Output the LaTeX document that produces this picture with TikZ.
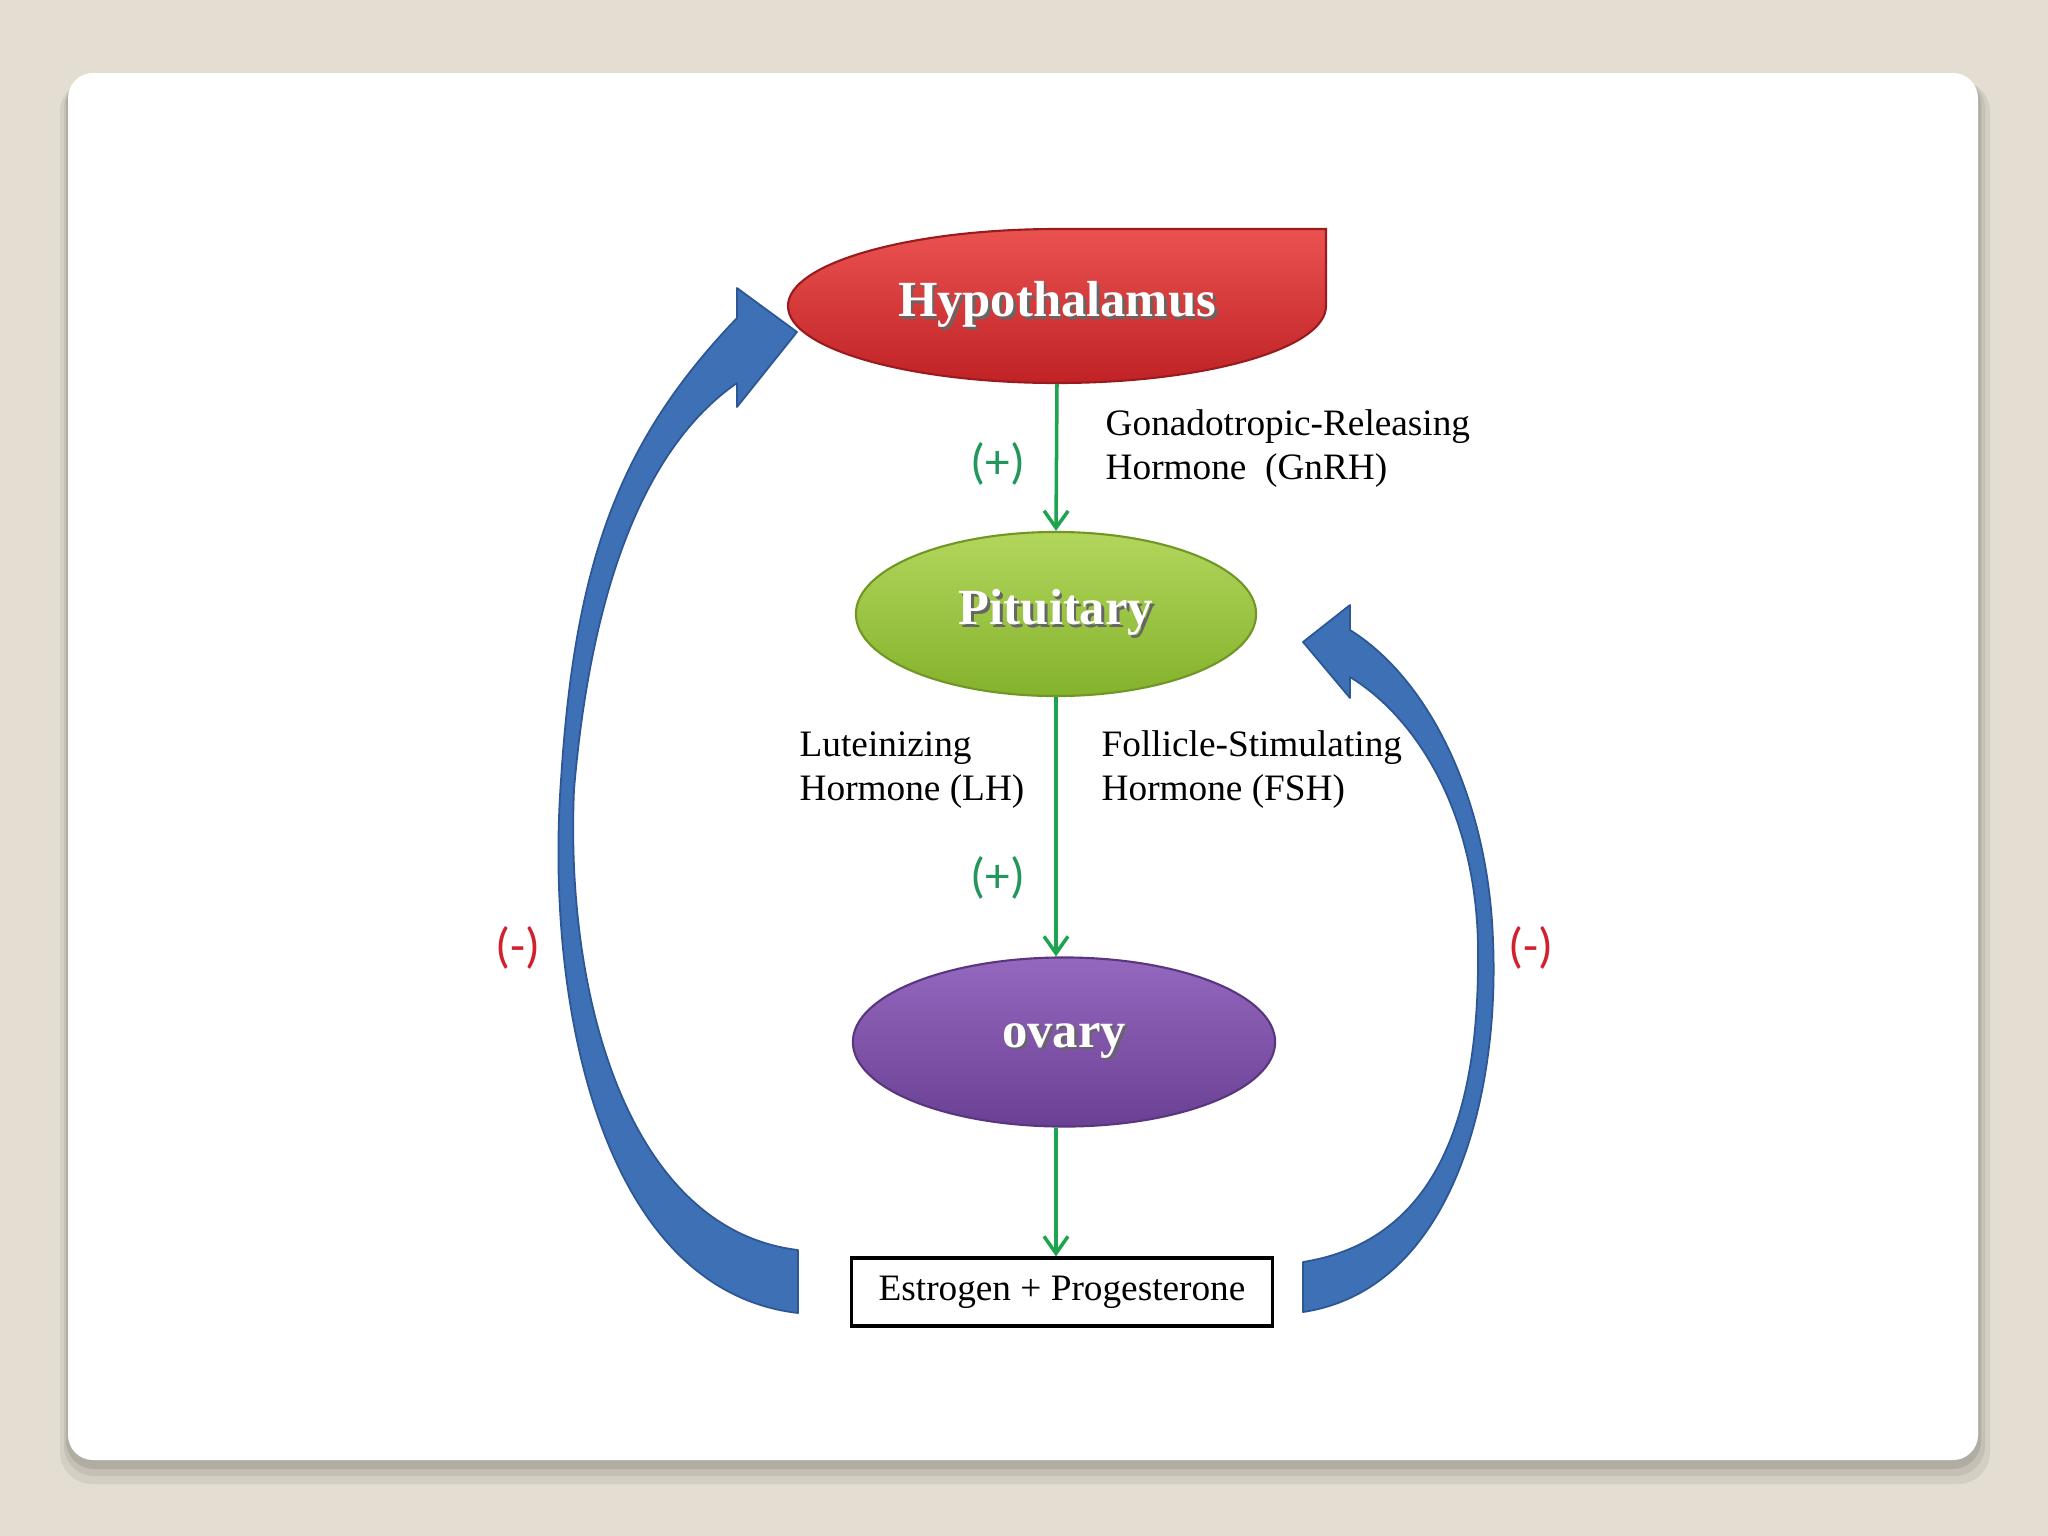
\documentclass[tikz,border=0pt]{standalone}
\usepackage{fontspec}
\setmainfont{Liberation Serif}
\newfontfamily\signfont{Carlito}
\usepackage{tikz}
\usetikzlibrary{arrows.meta,shapes.geometric,shadows}
\definecolor{pagebg}{RGB}{228,221,209}
\definecolor{cardshade}{RGB}{176,173,163}
\definecolor{hyporedlt}{RGB}{234,82,80}
\definecolor{hyporeddk}{RGB}{192,34,38}
\definecolor{pitgreenlt}{RGB}{178,214,92}
\definecolor{pitgreendk}{RGB}{132,178,44}
\definecolor{ovpurplelt}{RGB}{148,104,190}
\definecolor{ovpurpledk}{RGB}{106,64,148}
\definecolor{fbblue}{RGB}{62,112,182}
\definecolor{fbbluedk}{RGB}{44,86,148}
\definecolor{flowgreen}{RGB}{28,164,78}
\definecolor{posgreen}{RGB}{34,150,92}
\definecolor{negred}{RGB}{208,34,46}
\newcommand\shtext[1]{\makebox[0pt][l]{\kern0.8pt\raisebox{-0.8pt}{\color{black!60}#1}}#1}
\tikzset{
  organ/.style={ellipse,inner sep=0pt,text=white,font=\fontsize{14.4}{16}\selectfont\bfseries},
  flow/.style={-{Straight Barb[length=1.7mm,width=2.4mm]},line width=1pt,draw=flowgreen},
  fback/.style={fill=fbblue,draw=fbbluedk,line width=0.5pt,line join=round},
  lbl/.style={font=\fontsize{10.6}{12.5}\selectfont,align=left,inner sep=0pt,anchor=west},
  sign/.style={font=\signfont\fontsize{14}{14}\selectfont,inner sep=0pt},
  hormbox/.style={draw=black,line width=0.9pt,minimum width=4.21cm,minimum height=0.68cm,inner sep=0pt,font=\fontsize{10.6}{12.5}\selectfont}
}
\begin{document}
\begin{tikzpicture}[x=0.01cm,y=-0.01cm]
\useasboundingbox (0,0) rectangle (2048,1536);
\fill[pagebg] (0,0) rectangle (2048,1536);
% card with soft shadow
\fill[pagebg!70!cardshade,rounded corners=0.32cm] (60,80) rectangle (1990,1484);
\fill[pagebg!40!cardshade,rounded corners=0.3cm] (64,78) rectangle (1985,1476);
\fill[cardshade,rounded corners=0.28cm] (66,76) rectangle (1981,1469);
\fill[white,rounded corners=0.25cm] (68,73) rectangle (1978,1460);
% feedback arrows
\filldraw[fback] (798,1313) .. controls (600,1290) and (545,1000) .. (561,780)
  .. controls (575,560) and (620,440) .. (737,318)
  -- (737,288) -- (797,332) -- (737,407) -- (737,383)
  .. controls (640,450) and (590,600) .. (574,790)
  .. controls (565,1000) and (630,1230) .. (798,1250) -- cycle;
\filldraw[fback] (1303,1312) .. controls (1450,1290) and (1500,1100) .. (1493,940)
  .. controls (1488,800) and (1430,680) .. (1350,630)
  -- (1350,605) -- (1303,642) -- (1350,698) -- (1350,677)
  .. controls (1420,720) and (1480,820) .. (1478,960)
  .. controls (1478,1110) and (1440,1240) .. (1303,1262) -- cycle;
% hypothalamus shape
\shade[top color=hyporedlt,bottom color=hyporeddk,draw=hyporeddk!80!black,line width=0.6pt]
  (788,306) arc[start angle=180,end angle=270,x radius=269,y radius=77] -- (1326,229) -- (1326,306)
  arc[start angle=0,end angle=180,x radius=269,y radius=77] -- cycle;
\node[organ,minimum width=5.38cm,minimum height=1.54cm] (hypo) at (1057,306) {\shtext{Hypothalamus}};
\node[organ,minimum width=4.0cm,minimum height=1.64cm,top color=pitgreenlt,bottom color=pitgreendk,draw=pitgreendk!85!black,line width=0.6pt] (pitu) at (1056,614) {\shtext{Pituitary}};
\node[organ,minimum width=4.22cm,minimum height=1.69cm,top color=ovpurplelt,bottom color=ovpurpledk,draw=ovpurpledk!85!black,line width=0.6pt] (ovar) at (1064,1042) {\shtext{ovary}};
\node[hormbox] (horm) at (1062,1292) {Estrogen + Progesterone};
\draw[flow] (hypo.south) -- (pitu.north);
\draw[flow] (pitu.south) -- (pitu.south |- ovar.north);
\draw[flow] (pitu.south |- ovar.south) -- (pitu.south |- horm.north);
% labels
\node[lbl] (gnrh) at (1105,449) {Gonadotropic-Releasing\\Hormone\enspace(GnRH)};
\node[lbl] (lh) at (799,770) {Luteinizing\\Hormone (LH)};
\node[lbl] (fsh) at (1101,770) {Follicle-Stimulating\\Hormone (FSH)};
\node[sign,text=posgreen] (posa) at (998,464) {(+)};
\node[sign,text=posgreen] (posb) at (998,878) {(+)};
\node[sign,text=negred] (nega) at (518,948) {(-)};
\node[sign,text=negred] (negb) at (1531,948) {(-)};
\end{tikzpicture}
\end{document}
